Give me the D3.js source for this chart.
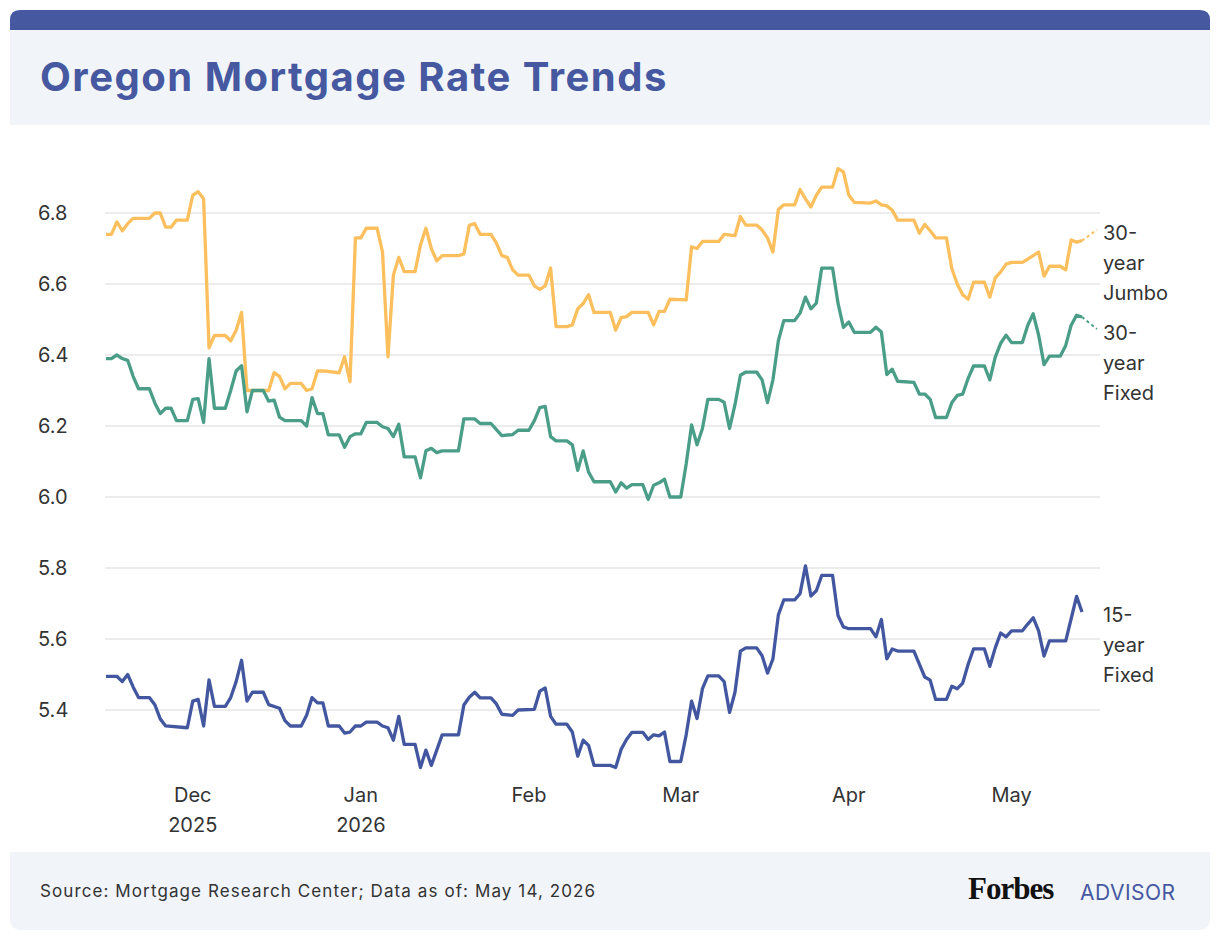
<!DOCTYPE html>
<html>
<head>
<meta charset="utf-8">
<script src="https://cdn.jsdelivr.net/npm/d3@7"></script>
<style>
  body { margin: 0; background: #fff; font-family: Inter, "Noto Sans", sans-serif; }
</style>
</head>
<body>
<div id="chart"></div>
<script>
// days since Nov 15, 2025 and rate at that day (vertices)
const jumbo = [
  [0,6.74],[1,6.74],[2,6.775],[3,6.75],[4,6.77],[5,6.785],[8,6.785],[9,6.8],[10,6.8],[11,6.76],[12,6.76],[13,6.78],[15,6.78],
  [16,6.85],[17,6.86],[18,6.84],[19,6.42],[20,6.455],[22,6.455],[23,6.44],[24,6.47],[25,6.52],[26,6.30],[30,6.30],
  [31,6.35],[32,6.34],[33,6.305],[34,6.32],[36,6.32],[37,6.30],[38,6.305],[39,6.355],[40,6.355],[43,6.35],[44,6.395],[45,6.325],
  [46,6.73],[47,6.73],[48,6.757],[50,6.757],[51,6.69],[52,6.395],[53,6.625],[54,6.675],[55,6.635],[57,6.635],[58,6.71],
  [59,6.757],[60,6.70],[61,6.665],[62,6.68],[65,6.68],[66,6.685],[67,6.765],[68,6.77],[69,6.74],[71,6.74],[72,6.715],
  [73,6.68],[74,6.675],[75,6.64],[76,6.625],[78,6.625],[79,6.595],[80,6.585],[81,6.595],[82,6.645],[83,6.48],[85,6.48],
  [86,6.485],[87,6.53],[88,6.545],[89,6.57],[90,6.52],[93,6.52],[94,6.47],[95,6.505],[96,6.508],[97,6.52],[100,6.52],
  [101,6.485],[102,6.523],[103,6.523],[104,6.557],[107,6.555],[108,6.705],[109,6.70],[110,6.72],[113,6.72],[114,6.74],
  [116,6.736],[117,6.79],[118,6.766],[120,6.766],[121,6.752],[122,6.73],[123,6.69],[124,6.81],[125,6.823],[127,6.823],
  [128,6.866],[129,6.84],[130,6.817],[131,6.85],[132,6.873],[134,6.873],[135,6.925],[136,6.916],[137,6.85],[138,6.83],
  [141,6.828],[142,6.834],[143,6.823],[144,6.82],[145,6.808],[146,6.78],[149,6.78],[150,6.743],[151,6.768],[152,6.75],
  [153,6.73],[155,6.73],[156,6.643],[157,6.6],[158,6.57],[159,6.557],[160,6.605],[162,6.605],[163,6.563],[164,6.617],
  [165,6.634],[166,6.656],[167,6.661],[169,6.661],[170,6.67],[172,6.69],[173,6.622],[174,6.65],[176,6.65],[177,6.64],
  [178,6.724],[179,6.718],[180,6.722]
];
const fixed30 = [
  [0,6.39],[1,6.39],[2,6.40],[3,6.39],[4,6.385],[5,6.34],[6,6.305],[8,6.305],[9,6.265],[10,6.235],[11,6.25],[12,6.25],
  [13,6.215],[15,6.215],[16,6.275],[17,6.277],[18,6.21],[19,6.39],[20,6.25],[22,6.25],[23,6.30],[24,6.355],[25,6.37],
  [26,6.24],[27,6.30],[29,6.30],[30,6.27],[31,6.273],[32,6.225],[33,6.215],[36,6.215],[37,6.20],[38,6.28],[39,6.235],
  [40,6.235],[41,6.175],[43,6.175],[44,6.14],[45,6.17],[46,6.178],[47,6.178],[48,6.21],[50,6.21],[51,6.198],[52,6.193],
  [53,6.17],[54,6.205],[55,6.113],[57,6.113],[58,6.054],[59,6.13],[60,6.137],[61,6.125],[62,6.13],[65,6.13],[66,6.22],
  [68,6.22],[69,6.207],[71,6.207],[72,6.19],[73,6.173],[75,6.176],[76,6.188],[78,6.188],[79,6.215],[80,6.252],[81,6.255],
  [82,6.17],[83,6.158],[85,6.158],[86,6.147],[87,6.075],[88,6.13],[89,6.07],[90,6.043],[93,6.043],[94,6.014],[95,6.04],
  [96,6.025],[97,6.035],[99,6.035],[100,5.993],[101,6.033],[102,6.04],[103,6.05],[104,6.0],[106,6.0],[107,6.093],
  [108,6.203],[109,6.147],[110,6.193],[111,6.275],[113,6.275],[114,6.267],[115,6.193],[116,6.26],[117,6.343],[118,6.352],
  [120,6.352],[121,6.33],[122,6.266],[123,6.33],[124,6.44],[125,6.497],[127,6.497],[128,6.518],[129,6.563],[130,6.53],
  [131,6.546],[132,6.645],[134,6.645],[135,6.546],[136,6.478],[137,6.493],[138,6.464],[141,6.464],[142,6.478],[143,6.465],
  [144,6.345],[145,6.36],[146,6.326],[149,6.323],[150,6.29],[151,6.29],[152,6.275],[153,6.224],[155,6.224],[156,6.266],
  [157,6.286],[158,6.29],[159,6.334],[160,6.369],[162,6.369],[163,6.33],[164,6.394],[165,6.433],[166,6.456],[167,6.435],
  [169,6.435],[170,6.484],[171,6.516],[172,6.456],[173,6.373],[174,6.397],[176,6.397],[177,6.427],[178,6.484],[179,6.512],
  [180,6.507]
];
const fixed15 = [
  [0,5.495],[2,5.495],[3,5.48],[4,5.50],[5,5.465],[6,5.435],[8,5.435],[9,5.415],[10,5.375],[11,5.355],[15,5.35],
  [16,5.425],[17,5.43],[18,5.355],[19,5.485],[20,5.41],[22,5.41],[23,5.435],[24,5.48],[25,5.54],[26,5.425],[27,5.45],
  [29,5.45],[30,5.415],[32,5.405],[33,5.37],[34,5.355],[36,5.355],[37,5.385],[38,5.435],[39,5.42],[40,5.42],[41,5.355],
  [43,5.355],[44,5.335],[45,5.338],[46,5.355],[47,5.355],[48,5.366],[50,5.366],[51,5.355],[52,5.35],[53,5.315],[54,5.382],
  [55,5.303],[57,5.303],[58,5.238],[59,5.287],[60,5.244],[61,5.287],[62,5.33],[65,5.33],[66,5.414],[67,5.436],[68,5.45],
  [69,5.434],[71,5.434],[72,5.417],[73,5.388],[75,5.385],[76,5.4],[79,5.402],[80,5.453],[81,5.462],[82,5.382],[83,5.36],
  [85,5.36],[86,5.338],[87,5.27],[88,5.315],[89,5.3],[90,5.244],[93,5.244],[94,5.238],[95,5.289],[96,5.317],[97,5.337],
  [99,5.337],[100,5.317],[101,5.33],[102,5.327],[103,5.338],[104,5.255],[106,5.255],[107,5.33],[108,5.425],[109,5.376],
  [110,5.46],[111,5.496],[113,5.496],[114,5.48],[115,5.393],[116,5.45],[117,5.566],[118,5.575],[120,5.575],[121,5.553],
  [122,5.504],[123,5.544],[124,5.668],[125,5.71],[127,5.71],[128,5.728],[129,5.806],[130,5.721],[131,5.736],[132,5.779],
  [134,5.779],[135,5.666],[136,5.634],[137,5.629],[138,5.629],[141,5.629],[142,5.606],[143,5.655],[144,5.544],[145,5.572],
  [146,5.566],[149,5.566],[150,5.529],[151,5.493],[152,5.484],[153,5.43],[155,5.43],[156,5.467],[157,5.46],[158,5.476],
  [159,5.529],[160,5.572],[162,5.572],[163,5.523],[164,5.575],[165,5.617],[166,5.606],[167,5.623],[169,5.623],[170,5.642],
  [171,5.66],[172,5.623],[173,5.552],[174,5.595],[177,5.595],[178,5.657],[179,5.72],[180,5.676]
];
const yTicks = [5.4, 5.6, 5.8, 6.0, 6.2, 6.4, 6.6, 6.8];
const monthTicks = [["Dec","2025"],["Jan","2026"],["Feb",""],["Mar",""],["Apr",""],["May",""]];
const seriesNames = [["30-","year","Jumbo"],["30-","year","Fixed"],["15-","year","Fixed"]];
const colors = ["#fcbf5d", "#4a9e88", "#4357a0"];

const W = 1220, H = 942;
const start = new Date(2025, 10, 15);
const day = d => d3.timeDay.offset(start, d);

const svg = d3.select("#chart").append("svg").attr("width", W).attr("height", H);

// card
svg.append("rect").attr("x", 10).attr("y", 10).attr("width", 1200).attr("height", 920).attr("rx", 10).attr("fill", "#f1f4f9");
svg.append("path").attr("d", "M10,30 V20 Q10,10 20,10 H1200 Q1210,10 1210,20 V30 Z").attr("fill", "#4558a0");
svg.append("rect").attr("x", 10).attr("y", 125).attr("width", 1200).attr("height", 727).attr("fill", "#fff");

svg.append("text").attr("x", 40).attr("y", 91).attr("fill", "#4558a0")
  .attr("font-size", 40).attr("font-weight", 700).attr("letter-spacing", 1.5).text("Oregon Mortgage Rate Trends");

const x = d3.scaleTime().domain([start, day(180)]).range([106, 1082]);
const y = d3.scaleLinear().domain([5.4, 6.8]).range([710, 213]);

svg.append("g").selectAll("line").data(yTicks).join("line")
  .attr("x1", 105).attr("x2", 1100).attr("y1", d => y(d)).attr("y2", d => y(d))
  .attr("stroke", "#e6e6e6").attr("stroke-width", 1.5);

svg.append("g").selectAll("text").data(yTicks).join("text")
  .attr("x", 38).attr("y", d => y(d) + 7).attr("font-size", 20).attr("fill", "#333")
  .text(d => d.toFixed(1));

const months = d3.timeMonth.range(new Date(2025, 11, 1), new Date(2026, 5, 1));
const xl = svg.append("g").selectAll("text").data(months).join("text")
  .attr("text-anchor", "middle").attr("font-size", 20).attr("fill", "#333")
  .attr("transform", d => `translate(${x(d)},802)`);
xl.append("tspan").attr("x", 0).attr("y", 0).text((d, i) => monthTicks[i][0]);
xl.append("tspan").attr("x", 0).attr("y", 30).text((d, i) => monthTicks[i][1]);

const line = d3.line().x(d => x(day(d[0]))).y(d => y(d[1]));
const all = [jumbo, fixed30, fixed15];
all.forEach((s, i) => {
  svg.append("path").datum(s).attr("d", line).attr("fill", "none")
    .attr("stroke", colors[i]).attr("stroke-width", 3.3).attr("stroke-linejoin", "round");
});

// dashed connectors to labels
const last = s => s[s.length - 1];
[[jumbo, 6.753], [fixed30, 6.473]].forEach(([s, v], i) => {
  svg.append("line").attr("x1", x(day(last(s)[0]))).attr("y1", y(last(s)[1]))
    .attr("x2", 1097).attr("y2", y(v)).attr("stroke", colors[i]).attr("stroke-width", 2)
    .attr("stroke-dasharray", "3,3");
});

const labelY = [240, 340, 622];
seriesNames.forEach((n, i) => {
  const t = svg.append("text").attr("x", 1103).attr("y", labelY[i]).attr("font-size", 20).attr("fill", "#333");
  n.forEach((w, j) => t.append("tspan").attr("x", 1103).attr("dy", j ? 30 : 0).text(w));
});

svg.append("text").attr("x", 40).attr("y", 897).attr("font-size", 17).attr("fill", "#333")
  .attr("letter-spacing", 1.1).text("Source: Mortgage Research Center; Data as of: May 14, 2026");
svg.append("text").attr("x", 968).attr("y", 899).attr("font-family", "'Liberation Serif', serif")
  .attr("font-weight", 700).attr("font-size", 31).attr("fill", "#111").attr("letter-spacing", -1).text("Forbes");
svg.append("text").attr("x", 1080).attr("y", 900).attr("font-size", 21).attr("fill", "#4558a0")
  .attr("letter-spacing", 0.5).text("ADVISOR");
</script>
</body>
</html>
